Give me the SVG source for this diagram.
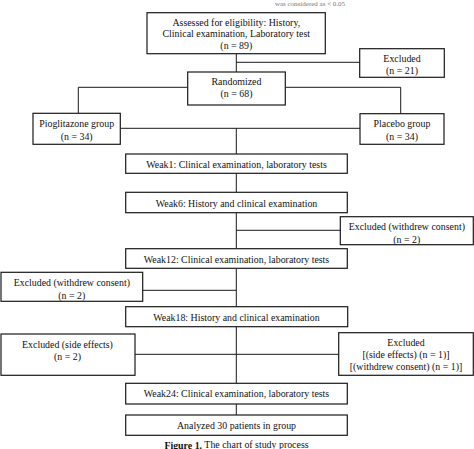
<svg xmlns="http://www.w3.org/2000/svg" width="474" height="449" viewBox="0 0 474 449">
<style>
.b{fill:#fff;stroke:#1a1a1a;stroke-width:1.2}
.l{fill:none;stroke:#1a1a1a;stroke-width:1}
text{font-family:'Liberation Serif','Times New Roman',serif;font-size:9.9px;fill:#111;text-anchor:middle;dominant-baseline:central}
</style>
<rect width="474" height="449" fill="#fff"/>
<text x="310" y="4" style="font-size:7px;fill:#777">was considered as &lt; 0.05</text>
<g id="connectors">
<path class="l" d="M236.3,53.7V72M236.3,62.3H359.7"/>
<path class="l" d="M187.7,87.3H78.3V113.3M285.3,87.3H400.7V113.7"/>
<path class="l" d="M120.3,128.3H360M236.3,128.3V154"/>
<path class="l" d="M236.3,173.3V192.3M236.3,212.7V248.7M236.3,230.3H340.3"/>
<path class="l" d="M236.3,268.3V306.7M142.7,290.3H236.3"/>
<path class="l" d="M236.3,326.7V383.3M135,354.3H338.7"/>
<path class="l" d="M236.3,404V415"/>
</g>
<g id="assessed"><rect class="b" x="147" y="12.7" width="178.3" height="41"/>
<text x="236.3" y="22.7">Assessed for eligibility: History,</text>
<text x="236.3" y="33.7">Clinical examination, Laboratory test</text>
<text x="236.3" y="45.3">(n = 89)</text></g>
<g id="excluded1"><rect class="b" x="359.7" y="48.7" width="84.6" height="28.6"/>
<text x="402" y="58">Excluded</text><text x="402" y="70">(n = 21)</text></g>
<g id="randomized"><rect class="b" x="187.7" y="72" width="97.6" height="33"/>
<text x="236.5" y="81.7">Randomized</text><text x="236.5" y="93.7">(n = 68)</text></g>
<g id="pioglitazone"><rect class="b" x="33" y="113.3" width="87.3" height="31"/>
<text x="76.7" y="123.3">Pioglitazone group</text><text x="76.7" y="136">(n = 34)</text></g>
<g id="placebo"><rect class="b" x="360" y="113.7" width="84" height="30.6"/>
<text x="402" y="123.3">Placebo group</text><text x="402" y="136">(n = 34)</text></g>
<g id="weak1"><rect class="b" x="125.7" y="154" width="221.6" height="19.3"/>
<text x="236.5" y="164.3">Weak1: Clinical examination, laboratory tests</text></g>
<g id="weak6"><rect class="b" x="125.7" y="192.3" width="221.6" height="20.4"/>
<text x="236.5" y="203.3">Weak6: History and clinical examination</text></g>
<g id="excluded2"><rect class="b" x="340.3" y="216.7" width="133" height="28"/>
<text x="406.8" y="226.3">Excluded (withdrew consent)</text><text x="406.8" y="239.3">(n = 2)</text></g>
<g id="weak12"><rect class="b" x="125.7" y="248.7" width="221.6" height="19.6"/>
<text x="236.5" y="259.3">Weak12: Clinical examination, laboratory tests</text></g>
<g id="excluded3"><rect class="b" x="1" y="272.3" width="141.7" height="29"/>
<text x="71.8" y="282.7">Excluded (withdrew consent)</text><text x="71.8" y="295.3">(n = 2)</text></g>
<g id="weak18"><rect class="b" x="125.7" y="306.7" width="222" height="20"/>
<text x="236.5" y="317">Weak18: History and clinical examination</text></g>
<g id="excluded4"><rect class="b" x="1" y="334" width="134" height="41.3"/>
<text x="67.5" y="344">Excluded (side effects)</text><text x="67.5" y="356.3">(n = 2)</text></g>
<g id="excluded5"><rect class="b" x="338.7" y="332.7" width="134.6" height="42.6"/>
<text x="406" y="342.7">Excluded</text><text x="406" y="354.7">[(side effects) (n = 1)]</text><text x="406" y="366.3">[(withdrew consent) (n = 1)]</text></g>
<g id="weak24"><rect class="b" x="125.7" y="383.3" width="221.6" height="20.7"/>
<text x="236.5" y="393.8">Weak24: Clinical examination, laboratory tests</text></g>
<g id="analyzed"><rect class="b" x="125.7" y="415" width="221.6" height="20.3"/>
<text x="236.5" y="425.2">Analyzed 30 patients in group</text></g>
<text x="236.5" y="444.5"><tspan font-weight="bold">Figure 1.</tspan> The chart of study process</text>
</svg>
